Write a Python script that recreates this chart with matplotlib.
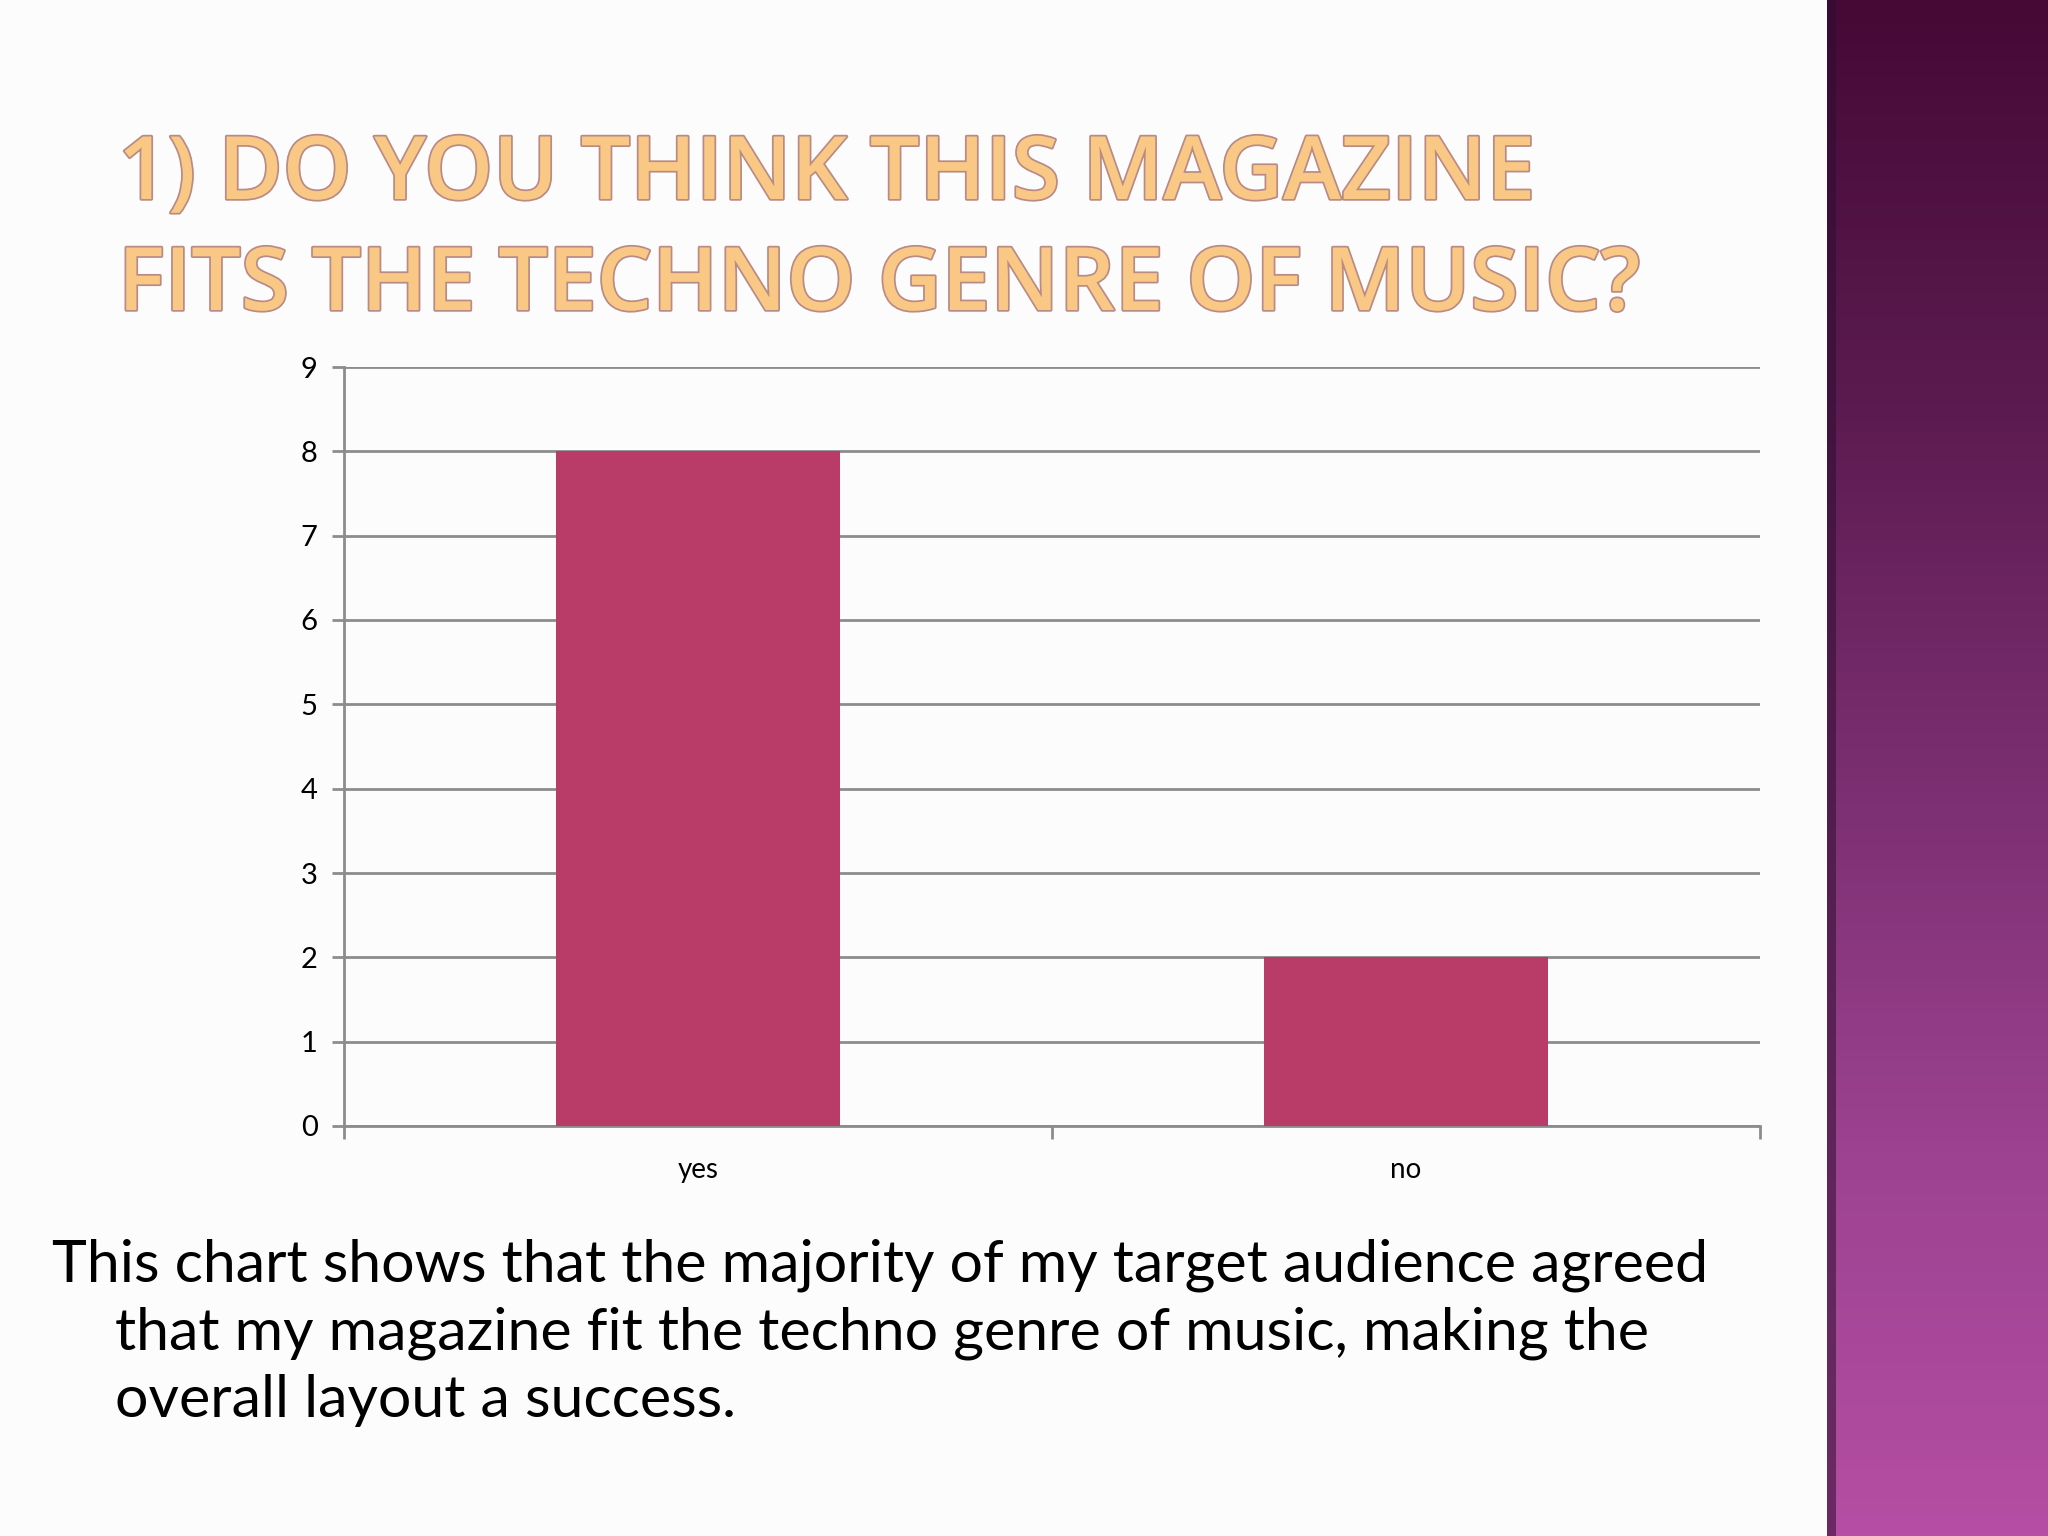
import numpy as np
import matplotlib.pyplot as plt
import matplotlib.patheffects as pe
from matplotlib.colors import LinearSegmentedColormap

# data
categories = ["yes", "no"]
counts = [8, 2]
y_ticks = list(range(0, 10))

title_lines = ["1) DO YOU THINK THIS MAGAZINE",
               "FITS THE TECHNO GENRE OF MUSIC?"]
body_lines = ["This chart shows that the majority of my target audience agreed",
              "that my magazine fit the techno genre of music, making the",
              "overall layout a success."]

W, H = 2048, 1536
fig = plt.figure(figsize=(W / 100, H / 100), dpi=100)
fig.patch.set_facecolor("#fdfcfd")

# purple strip on the right
band = fig.add_axes([1827 / W, 0, (W - 1827) / W, 1])
cmap = LinearSegmentedColormap.from_list(
    "band", ["#460936", "#5a1a4e", "#7a2e70", "#9c4290", "#b54ea4"])
grad = np.linspace(0, 1, 256).reshape(-1, 1)
band.imshow(grad, aspect="auto", cmap=cmap, extent=[0, 1, 0, 1], origin="upper")
band.axvspan(0, 0.04, color="#2e0d30", alpha=0.55, lw=0)
band.set_xlim(0, 1)
band.set_ylim(0, 1)
band.axis("off")

# title
title_y = [199, 310]
for line, y in zip(title_lines, title_y):
    fig.text(118 / W, 1 - y / H, line, ha="left", va="baseline",
             fontsize=63, fontweight="semibold", family="Open Sans",
             color="#f8c884",
             path_effects=[pe.withStroke(linewidth=2.5, foreground="#b98a86")])

# chart
ax = fig.add_axes([344 / W, 1 - 1126 / H, (1760 - 344) / W, (1126 - 367) / H])
ax.set_facecolor("none")
x = np.arange(len(categories))
ax.bar(x, counts, width=0.4, color="#b83c67", zorder=3)
ax.set_xlim(-0.5, len(categories) - 0.5)
ax.set_ylim(0, 9)
ax.set_yticks(y_ticks)
ax.yaxis.grid(True, color="#8c8c8c", linewidth=2)
ax.set_axisbelow(True)
for s in ["top", "right"]:
    ax.spines[s].set_visible(False)
for s in ["left", "bottom"]:
    ax.spines[s].set_color("#8c8c8c")
    ax.spines[s].set_linewidth(2)

ax.set_xticks(x)
ax.set_xticklabels(categories)
ax.set_xticks(np.arange(-0.5, len(categories)), minor=True)
ax.tick_params(axis="x", which="major", length=0, pad=22, labelsize=20)
ax.tick_params(axis="x", which="minor", length=9, width=2, color="#8c8c8c",
               direction="out")
ax.tick_params(axis="y", length=9, width=2, color="#8c8c8c", direction="out",
               pad=10, labelsize=21)
for lbl in ax.get_xticklabels() + ax.get_yticklabels():
    lbl.set_family("Lato")

# body text
body_pos = [(52, 1282), (115, 1350), (115, 1417)]
for line, (bx, by) in zip(body_lines, body_pos):
    fig.text(bx / W, 1 - by / H, line, ha="left", va="baseline",
             fontsize=42.5, family="Lato", color="#000000")

fig.savefig("out.png", dpi=100, facecolor=fig.get_facecolor())
plt.close(fig)
